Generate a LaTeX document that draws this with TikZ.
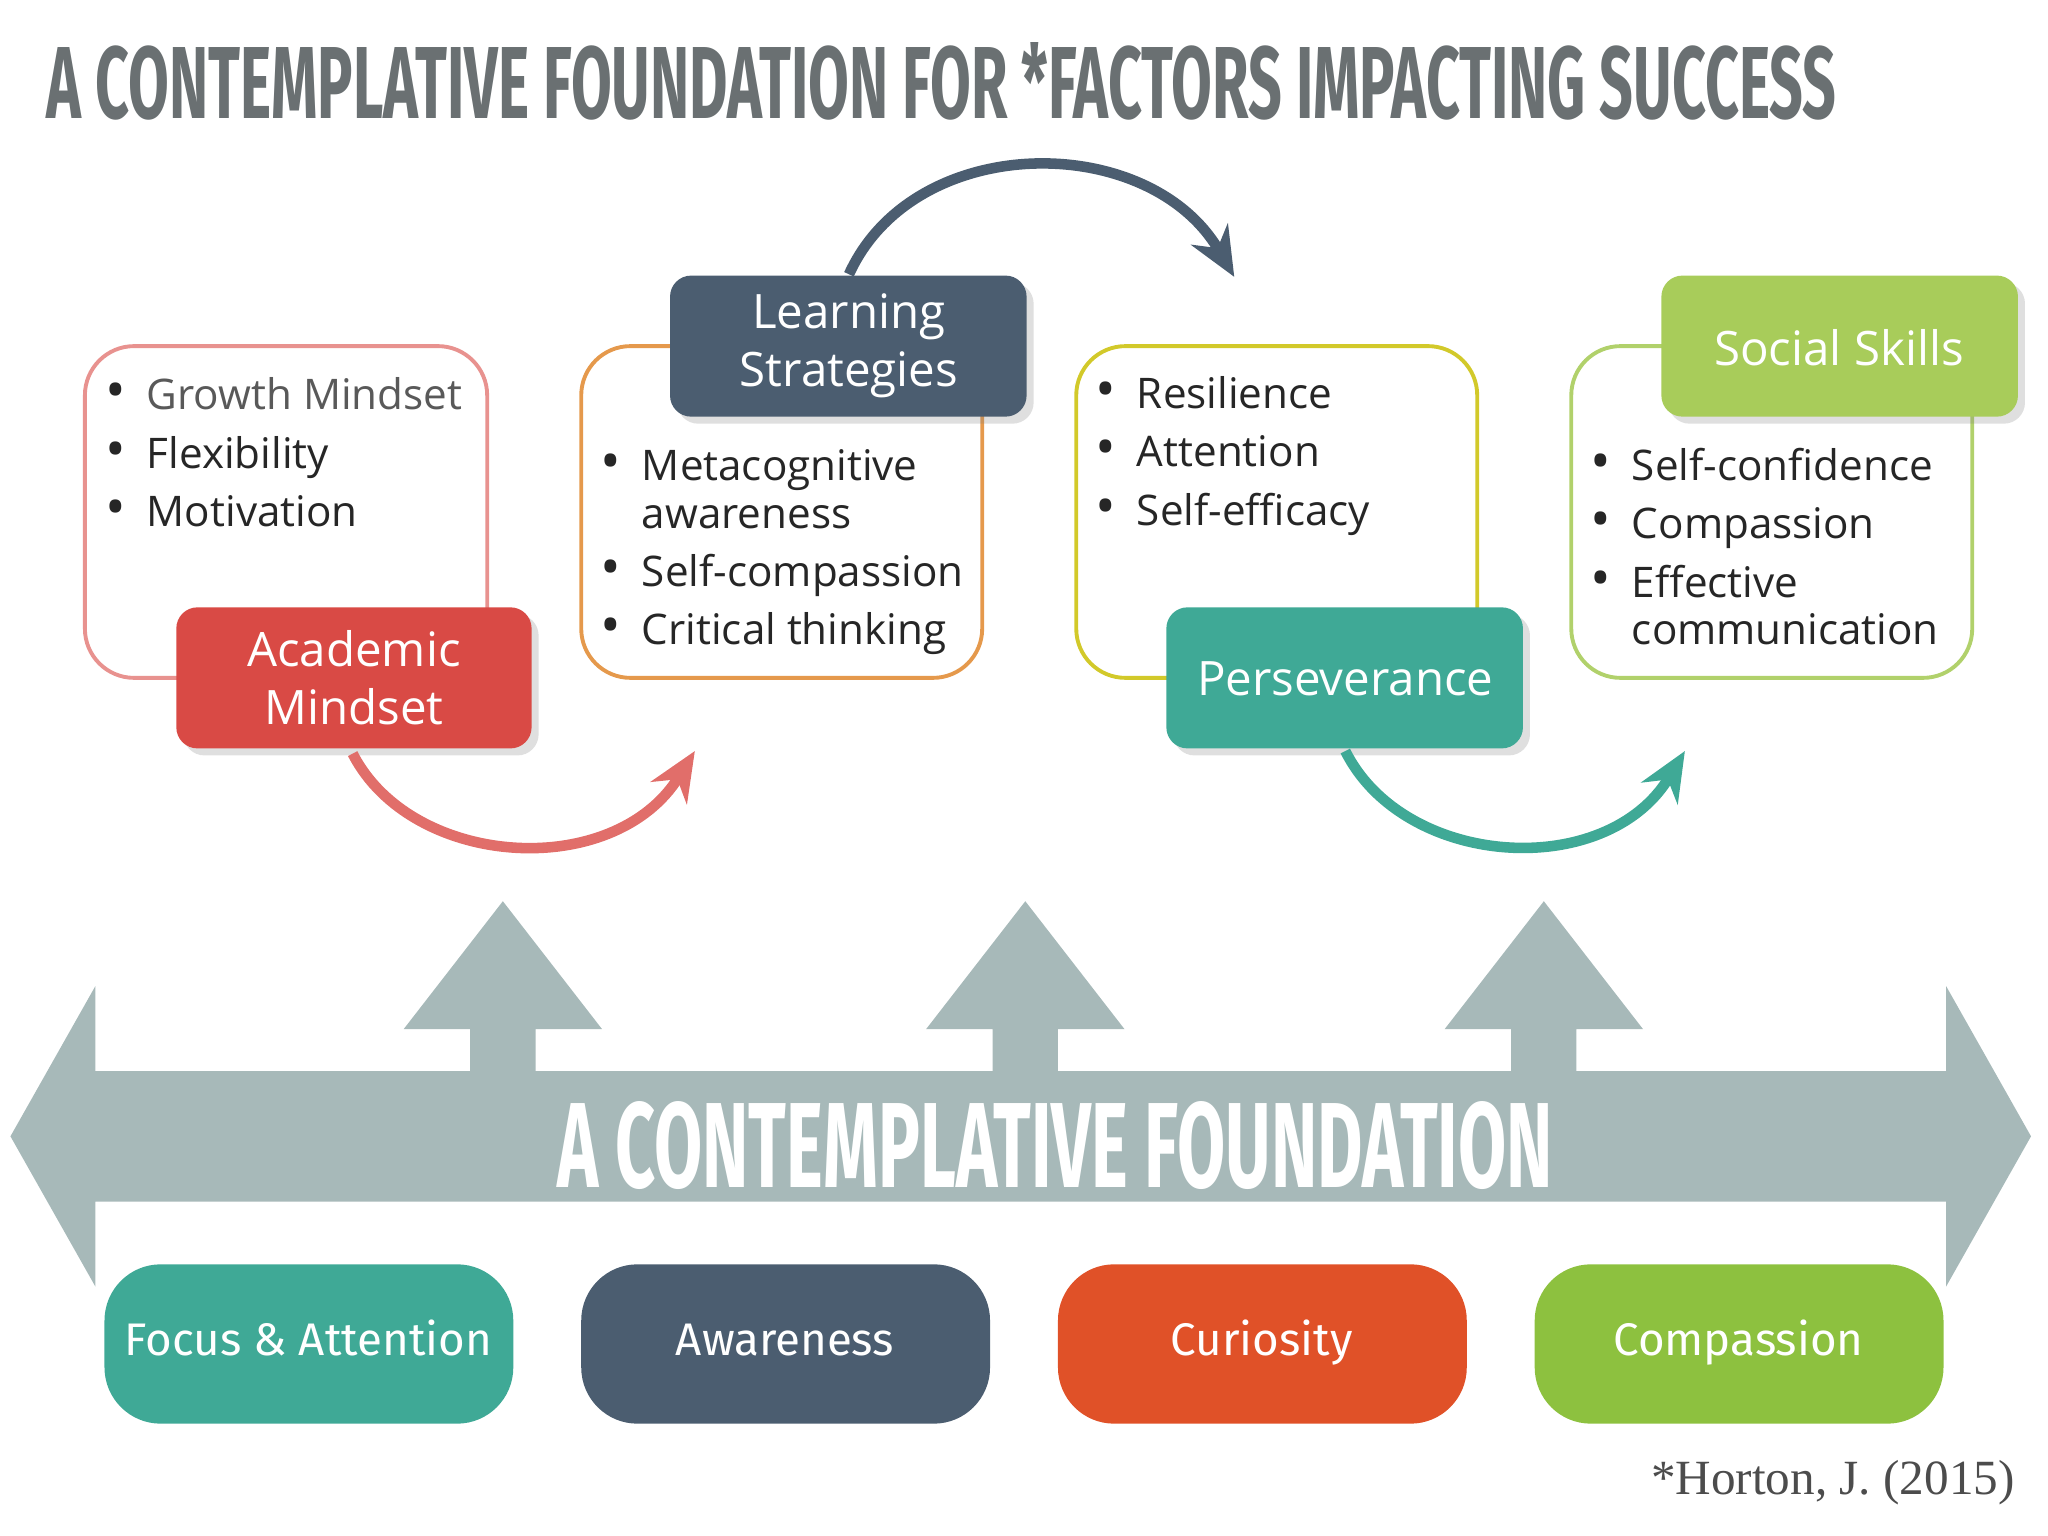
\documentclass[tikz,border=0pt]{standalone}
\usepackage{fontspec}
\setmainfont{Open Sans}
\newfontfamily\titlef{Fira Sans}
\newfontfamily\citef{Liberation Serif}
\usetikzlibrary{arrows.meta,shadows}
\definecolor{cred}{HTML}{D94A45}
\definecolor{cslate}{HTML}{4B5D70}
\definecolor{cteal}{HTML}{3FA996}
\definecolor{cgreen}{HTML}{A8CC5A}
\definecolor{corange}{HTML}{E05128}
\definecolor{cgreen2}{HTML}{8DC13F}
\definecolor{cgray}{HTML}{A7B9B9}
\definecolor{ctitle}{HTML}{6A7072}
\tikzset{
 outl/.style={draw=#1,line width=1.1pt,rounded corners=14pt,fill=white},
 labf/.style={fill=#1,rounded corners=6pt,drop shadow={opacity=0.25,shadow xshift=2pt,shadow yshift=-2pt}},
 labt/.style={text=white,align=center,font=\fontsize{13.5}{16.5}\selectfont},
 botf/.style={fill=#1,rounded corners=16pt},
 bott/.style={text=white,font=\titlef\fontsize{13}{15}\selectfont,text height=9pt,text depth=2.5pt},
 lst/.style={anchor=north west,inner sep=0pt,font=\fontsize{12}{16.6}\selectfont,text=black!85},
 arc/.style={line width=3pt,draw=#1,-{Stealth[length=14pt,width=12pt]}}
}
\newcommand{\bl}{\scalebox{1.3}{\textbullet}}
\newcommand{\blist}[1]{\begin{tabular}{@{}l@{\hspace{6pt}}l@{}}#1\end{tabular}}
\begin{document}
\begin{tikzpicture}[x=0.013061cm,y=-0.013061cm]
\useasboundingbox (0,0) rectangle (1568,1176);
\node (title) [anchor=west,inner sep=0pt,text=ctitle] at (35,62) {\resizebox{17.9cm}{0.76cm}{\titlef\fontseries{sb}\selectfont A CONTEMPLATIVE FOUNDATION FOR *FACTORS IMPACTING SUCCESS}};
\draw[outl=cred!60] (65,265) rectangle (373,519);
\draw[outl=brown!50!orange!80] (445,265) rectangle (752,519);
\draw[outl=olive!50!yellow!80] (824,265) rectangle (1131,519);
\draw[outl=cgreen!90] (1203,265) rectangle (1510,519);
\node (l1) [lst] at (80,282) {\blist{\bl & \textcolor{black!65}{Growth Mindset}\\ \bl & Flexibility\\ \bl & Motivation}};
\node (l2) [lst] at (459,336) {\blist{\bl & Metacognitive\\[-3pt] & awareness\\ \bl & Self-compassion\\ \bl & Critical thinking}};
\node (l3) [lst] at (838,281) {\blist{\bl & Resilience\\ \bl & Attention\\ \bl & Self-efficacy}};
\node (l4) [lst] at (1217,336) {\blist{\bl & Self-confidence\\ \bl & Compassion\\ \bl & Effective\\[-3pt] & communication}};
\fill[labf=cred] (135,465) rectangle (407,573);
\node (amt) [labt] at (271,519) {Academic\\Mindset};
\fill[labf=cslate] (513,211) rectangle (786,319);
\node (ls) [labt] at (650,265) {Learning\\Strategies};
\fill[labf=cteal] (893,465) rectangle (1166,573);
\node (pv) [labt] at (1030,520) {Perseverance};
\fill[labf=cgreen] (1272,211) rectangle (1545,319);
\node (ss) [labt] at (1408,266) {Social Skills};
\coordinate (a1s) at (270,577); \coordinate (a1e) at (532,575);
\coordinate (a2s) at (650,210); \coordinate (a2e) at (945,212);
\coordinate (a3s) at (1030,575); \coordinate (a3e) at (1290,575);
\draw[arc=cred!80!white] (a1s) .. controls (315,665) and (470,675) .. (a1e);
\draw[arc=cslate] (a2s) .. controls (700,100) and (880,100) .. (a2e);
\draw[arc=cteal] (a3s) .. controls (1075,665) and (1230,675) .. (a3e);
\fill[cgray] (8,870) -- (73,755) -- (73,820) -- (1490,820) -- (1490,755) -- (1555,870) -- (1490,985) -- (1490,920) -- (73,920) -- (73,985) -- cycle;
\foreach \x in {385,785,1182}{
 \fill[cgray] (\x,690) -- (\x+76,788) -- (\x+25,788) -- (\x+25,821) -- (\x-25,821) -- (\x-25,788) -- (\x-76,788) -- cycle;}
\node (cf) [inner sep=0pt,text=white] at (808,877) {\resizebox{9.95cm}{0.86cm}{\titlef\fontseries{sb}\selectfont A CONTEMPLATIVE FOUNDATION}};
\fill[botf=cteal] (80,968) rectangle (393,1090);
\node (b1) [bott] at (236,1029) {Focus \& Attention};
\fill[botf=cslate] (445,968) rectangle (758,1090);
\node (b2) [bott] at (601,1029) {Awareness};
\fill[botf=corange] (810,968) rectangle (1123,1090);
\node (b3) [bott] at (966,1029) {Curiosity};
\fill[botf=cgreen2] (1175,968) rectangle (1488,1090);
\node (b4) [bott] at (1331,1029) {Compassion};
\node (cit) [anchor=east,text=black!70,font=\citef\fontsize{14}{16}\selectfont] at (1552,1135) {*Horton, J. (2015)};
\end{tikzpicture}
\end{document}
